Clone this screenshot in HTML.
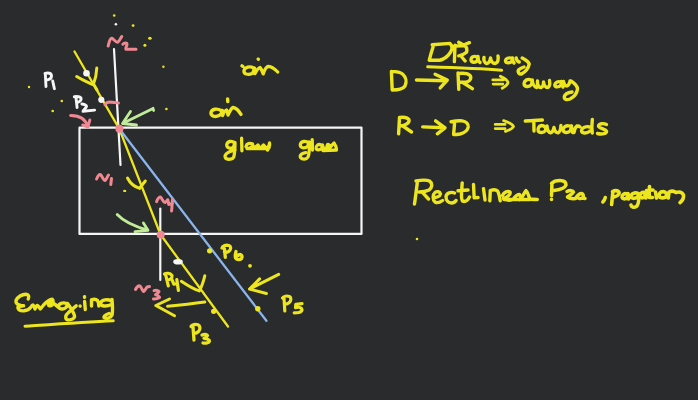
<!DOCTYPE html>
<html><head><meta charset="utf-8">
<style>
html,body{margin:0;padding:0;background:#2a2b2d;width:698px;height:400px;overflow:hidden}
svg{display:block}
</style></head><body>
<svg width="698" height="400" viewBox="0 0 698 400">
<rect width="698" height="400" fill="#2a2b2d"/>
<g fill="none" stroke-linecap="round" stroke-linejoin="round">
<!-- rectangle -->
<rect x="79.5" y="127.7" width="282" height="106.2" stroke="#f6f6f6" stroke-width="2.2"/>
<!-- normals -->
<path d="M114 49 L120.5 165" stroke="#f6f6f6" stroke-width="2.2"/>
<path d="M160.3 208.5 L160.3 280" stroke="#f6f6f6" stroke-width="2.2"/>
<!-- yellow ray -->
<path d="M74.5 51.5 L119.3 128.8 L160.5 234.5 L228 326.5" stroke="#ede61f" stroke-width="2.3"/>
<!-- blue ray -->
<path d="M119.3 128.8 L266.4 320.8" stroke="#8ab4ec" stroke-width="2.3"/>

<!-- white labels -->
<g stroke="#f6f6f6" stroke-width="2.9">
<path id="P1" d="M45.3 74 L46 86.6 M45 73.5 C48 72.5 51.5 73 51.5 76 C51.5 78.5 49 79.5 47.5 79.8 M52.7 81 L54.4 88.7"/>
<path id="P2" d="M76 97.5 L77.1 107.5 M74.3 96.7 C77 96.3 79.7 96.3 81 98 C81.5 100 80 101.8 77.8 102.3 M81.9 104 C84 104.3 86.5 105 86.5 106.5 C86 108 83.5 109.5 83 111.3 L94.6 110.1"/>
</g>

<!-- pink -->
<g stroke="#f08892" stroke-width="3">
<path id="N2" d="M108.2 46 C109 42 110.5 38.5 111.7 38.2 C113.5 39 115.5 42 117.6 42.3 C119.5 41.5 120.5 38 121.75 36.5 M122.8 44.2 C124.5 42.5 127 42.8 127 44.5 C126.8 46.5 125 48 125.8 49.2 L136 49.2"/>
<path id="arc" d="M105 104.9 C105.8 102.8 107 101.9 110 101.9 L118.4 103"/>
<path id="parrow" d="M70.6 115.6 C78 115.5 85 117.5 88 127 M89.8 120 L88 127 L82.8 125"/>
<path id="N1" d="M96.6 179 C98 175.5 99.5 174 100.5 174.5 C102 176 103 180 105 180.5 C106.5 180 107.5 176 108.5 175 M111.5 178.5 L110.8 184.5"/>
<path id="N4" d="M156.6 201.6 C158 198 159.5 197 160.5 197 C162 198.5 163.5 202.5 165 202.5 C166.5 202 167 200 167.8 199.7 M167.8 199.7 L168.75 204.4 L172.5 203.4 M172.5 199.7 L171.6 211"/>
<path id="N3" d="M135.5 289.5 C137 286.5 139 285.5 140 286 C141.5 287.5 142.5 291 143.5 291.5 C145 291 146 288 147 287 L149.5 286.5 M154 290.6 C156 290 158.5 290.5 159 291.5 C158.5 293 156.5 294 155.5 294.7 C157.5 295.5 159.5 296.5 159.6 297.5 C158 298.5 155.5 299 153.4 298.9"/>
</g>

<!-- green -->
<g stroke="#c0ec98" stroke-width="2.8">
<path id="garrow1" d="M153 108.3 L153.6 110.5 M153 108.5 L122.5 123.5 M130.5 111.5 L122.5 123.5 L136.5 125"/>
<path id="garrow2" d="M117.2 214.5 Q126 224 148 230.3 M143.4 223 L148 230.3 L135 231.6"/>
</g>

<!-- yellow marks -->
<g stroke="#ede61f" stroke-width="3">
<path id="yarrow1" d="M76.7 76.6 C82 80 88 82 92.5 84.5 M96.8 68 C96.5 74 95.5 79 93.5 84 L97 90"/>
<path id="yv1" d="M127.5 178 C130 183 135 187 139.7 188.4 M145.3 181 C143 184 141 186 139.7 188.4"/>
<path id="P4" stroke-width="3.2" d="M165.4 273.7 L168.3 285.9 M164.5 274 C166.5 273 170 273 172 275.5 C172.5 278 170 280 167.5 280.2 M172.2 280.2 L173.8 284.1 L177.2 283.4 M176.8 279.5 L178.4 290.5"/>
<path id="yv2" d="M181.4 281.3 C187 285 193 289 199.3 290.9 M204.8 275.8 C203.5 281 201.5 287 199.3 290.9"/>
<path id="yleft" d="M204.8 301.9 C193 303.5 180 305 167.6 306.3 M169.5 299 L155.8 305.5 L174.5 315.7"/>
<path id="P3" stroke-width="3.3" d="M193 327 L194 340 M191 326.5 C192 324.5 195.5 324 198 324.8 C200.5 326 200.5 329.5 198.5 331.5 C197 333 195.5 333.5 194 333.3 M202 335 C204 334 207 334 207.5 335.5 C207 337 205 338 204 338.3 C206.5 338.5 209 339.5 209.5 341 C209 343 205.5 343.5 203 343"/>
<path id="P6" stroke-width="3.3" d="M224.5 249 L225.3 257.3 M222 248 C222.5 245.5 226 244.8 229 245.5 C231.5 246.5 231 250 228.5 251.5 C227 252.3 225.5 252.3 224.5 252 M236 251.5 C235.3 254 235 256.5 235.5 258 C236.5 260 240 260 241.5 258.5 C242.5 257 242 255 240.5 254.5 C239 254.5 237.5 255.5 236.5 256.5"/>
<path id="yblue" d="M278.7 274.4 L249.5 289 M259.6 278.9 L249.5 289 L266.4 293.5"/>
<path id="P5" stroke-width="3.2" d="M284 298 L284.8 311 M282.5 298 C283.5 296 287 295.8 289.5 296.5 C291.5 297.5 291.3 301 289 302.8 C287.5 304 285.5 304.3 284.5 304 M302 303.7 L295.8 304.3 L295.5 307.6 C297.5 307.2 300.5 307.2 301.5 308.5 C302.5 310 301.5 312 299 312.5 C297.5 312.8 295.5 312.8 294.2 312.8"/>
</g>
</g>


<!-- handwriting text -->
<g fill="none" stroke="#ede61f" stroke-width="3.4" stroke-linecap="round" stroke-linejoin="round">
<path id="air1" stroke-width="3.3" d="M253.5 68 C250 66 245 67 244 70.5 C243.5 74 248 75.5 252 73.5 C253.5 72.5 254 70 254.5 68 L255 73.5 C256.5 70.5 258.5 68 260 67.5 C261.5 69 262.5 72 263.2 73.9 C264.5 70 266.5 67 268.3 66.3 C271 66.5 275 69 277.7 72 M242 65.8 L242.8 66.3 M258.2 59.1 L258.3 59.3"/>
<path id="air2" stroke-width="3.4" d="M221 110.5 C217 108 212 109 211 112.5 C210.5 116 215 117.5 219 115.5 C221 114.5 222 112 222.3 110.5 L222.5 115.5 C223.5 113 225 110.5 226.6 110 C227.5 111.5 227.8 113.5 228 115 C229.5 112 231 108.5 232.9 107.5 C236 108 239 111 241 114.4 M227.6 99 L227.8 101.6"/>
<path id="glass1" stroke-width="3.3" d="M234.5 143 C232 140.5 227.5 141 226.8 144.5 C226.5 148 230.5 149.5 233.5 147 L235 142.5 C235 148 234.5 154 233.8 156.9 C232.5 159.5 228.5 160 226 158.5 C224 156.5 225.5 153.5 229 152 C231 151 233 150.5 235 150 M241.6 138.2 L241.9 150.8 M246 146.5 C246.5 143.5 250 142.5 252.5 144 C253.5 146 251 148.5 247.5 148.5 C252 149 256 147 258 145 C259 147 259.5 148 260.5 148 C262 147.5 262.5 145.5 263.5 145 C265 146.5 265.5 148 267 148 C268.5 147 269.5 144.5 269.5 143 C270 146 269 148.5 267.5 150 M247 148.5 L267 148.5"/>
<path id="glass2" stroke-width="3.3" d="M308.5 143 C306 140.5 301 141 300.3 144.5 C300 148 304.5 149 307.5 146.5 L309.3 142 C309.5 148 309.5 154 308 157 C306.5 159.5 302.5 160 300.5 157.5 C299.5 155 302 153 305.7 152.6 M312.2 139.7 L312.5 150 M321 145 C318.5 143.5 316 145.5 316.2 148 C316.5 150.5 320 150.5 322 148 L322.5 145 C323 147 323.5 149.5 325.5 149.5 C327 148.5 327 146 327.5 144.5 C329 144 330 146 329.5 148 C331 146.5 332.5 144 334 143 C335.5 145 336.5 148 336.5 150 L323 150.5"/>
<path id="draway" d="M432.2 44.8 L450 43.4 M433.6 45.2 C432 50 430.5 55 429.3 60.2 M450 43.6 C453.5 46.5 452 51.5 448 55.5 C445.5 58 443 59.8 439.5 60.2 L429.3 60.2 M455 45.2 L454.4 61.6 M455.2 46 C458 45.8 462.5 45.5 465.1 45.9 C467 47.5 467 50.5 466.5 52.3 C464 54.5 461 55.5 458.7 55.9 M461 56 L465.1 61 M458.7 42.3 L463.5 45 L469.4 42.7 M477 57 C474 55.5 471 57 471 60 C471.5 63 476 63 477.5 60 L478 56.5 C478 59 478.5 61.5 480 62.5 M484 57.5 C483.5 60 484.5 63 486.5 63.5 C488.5 63.5 490 61 490.5 58 C491 61 492.5 63.5 495 63.5 C497.5 63 498.5 60 498 56 M512 58.5 C509 57 505.5 58.5 505.5 61 C506 63.5 510 63.5 512 61 L512.5 58 C512.5 60.5 513 62 514 63 M516.2 58 C516.5 60 517.5 61.5 519.2 62 M522.2 58 C525 59.5 528.5 61.5 529.2 64 C528.5 68 525 72 521.5 74 C519 74.5 517.5 72 518.5 70 C520 68.5 522.5 67.5 524 67"/>
<path id="uline" d="M427.7 66.8 C450 67.5 480 68.5 501.7 70.2" stroke-width="3"/>
<path id="DR" d="M391.4 71.4 L392.2 90 M391.4 71.4 C396 71.5 400 72 402.5 74 C406 77 407 82 405 86 C403 89 398 90 392.5 90 M416.5 80 L446.6 80.8 M435.1 74.3 L447.3 80 L440.2 87.9 M458 72.9 L458.8 89.4 M458 73.5 C462 73 467 73 469.5 75 C472 77.5 470.5 81 466.7 82 C463 82.5 460 82.2 458.8 82.2 M462.4 82.2 L472.4 88.6"/>
<path id="imp1" stroke-width="2.9" d="M492.8 79.9 L503.5 79.9 M493.2 84.1 L502.8 84.1 M500.4 76.3 C504 78 507.5 80 508 82.5 C507.5 85 504.5 87 502.2 88.3"/>
<path id="away" d="M531 80 C528 78.5 524.5 80 524 83.5 C524 87 529 87.5 531.5 84.5 L532.3 80 C532.3 83 534 86.5 536.5 87.5 M537.5 81 C537 84 538.5 87.5 541 87.5 C543 87 543.5 84 543.5 82 C544 85 545.5 87.5 547.5 87.5 C549.5 87 550 83.5 549.5 80.5 M560.5 82 C558 81 555 82.5 554.8 85 C555 87.5 559 87.5 561 85 L561.5 81.5 C561.5 84 562 86 563 87 M563.5 81.5 C564 84 565.5 86 567 86 C568.5 85.5 569.5 83.5 570 81 M571 81 C574 83 577.5 86 577.5 89 C577 93 574 97 570 99 C566 100.5 564 99 564.3 96.5 C565 94 569 92.5 572 92"/>
<path id="RD" d="M399.5 117.5 L398.6 133.8 M399.5 117.5 C403 117 407 117 408.9 119.5 C410 123 405 125.5 400.3 126 M402.9 126 L411.5 132 M422.7 126.9 L445 127.8 M435.6 120.9 L445 127.8 L437.3 133.8 M454.5 122.6 C454.5 126 454 130 453.6 133.8 M451 121.75 C455 121 459 120.5 462.2 120.9 C466 121.5 468.5 124 468.2 127 C467.5 131 464 133 460 134 C457 134.5 455 134.6 453.6 134.6"/>
<path id="imp2" stroke-width="2.8" d="M495.2 124.4 L505 124.4 M495.2 128.6 L505 128.6 M503.6 120.6 C508 122 512.5 124 513.5 126.5 C512.5 129 508 130.5 505.4 131.4"/>
<path id="towards" d="M525.3 121 C531 120.5 537 120.3 542.4 120 M533.8 121 L534 131 M541.5 125.5 C538.5 126 537.5 129 538.3 131.3 C539.5 133 544 133 545.5 130.5 C546.3 128 544.5 125.5 541.5 125.5 M547 126 C547.3 129.5 548.5 132.5 550.5 132.8 C552.5 132.5 553.5 129.5 554 127.5 C554.5 130 556 132.8 558 132.8 C560 132 560.8 128.5 560.9 125.5 M569.5 126 C566.5 125 563 127 563 130 C563.5 133 568 133.5 570.5 130.5 L571.5 125.8 C571.5 128.5 572 131 572.7 132.5 M574 132.5 C574.5 129.5 575.5 127 577 126 C578 125.8 579 126 580 126.8 M589.5 127 C586 126 582 127.5 581.5 130.5 C581.5 133.5 586.5 134 590 131 M592.3 119.5 C591.8 124 591.6 128.5 592.3 133 M606.5 124.5 C603.5 123 599 123.5 598.5 126 C598.5 128.5 605 128.5 606.5 131 C607.5 133.5 602 134.8 597.5 133.5"/>
<path id="rect" d="M417.5 181 C416.5 189 415.5 197 414.5 204 M416 181 C421 180 426 179.5 429.5 181 C433 183.5 432 188 429 190 C425 192 421 192 419 192 M422 192 C424.5 194.5 426.5 197 428.5 199 M433.5 197.5 C436 197.5 440 196.5 440.5 194 C440 191.5 437 191 435 192.5 C432.5 194.5 432.5 200 435 202 C437.5 203.5 440.5 202 442.5 200.5 M454.5 193 C451 191.5 446.5 193 446 196.5 C446 201 448.5 203 451.5 203 C453 203 455 202 456 200.5 M462.2 182.9 C461.8 188 461.5 193 461.5 196.5 C461.5 200 462.5 201.5 464 201.5 C466 201.5 468 200 469.5 197 M458 190.8 L468 190 M473.5 184.5 L474.2 197.9 L478 197.5 M483.5 188.6 L485 200 M489.8 200.8 L490.3 190.5 C493 189.5 496 189.5 497.5 191 C499 193 499.5 197 500.2 200.8 M502.5 195.5 C504 192 508 190.5 510 192 C511 194.5 507 197.5 503.5 198.5 C506 200.5 510 200.5 513 199.5 C515 196.5 517 194.5 519.5 194.5 C521 196.5 521 199 519.5 199.8 C522 198.5 524 193 526 190.5 C528 192 528.5 197 530 199 C532 199.5 535 199.5 537.3 199.5 M504 199.5 L530 199.5"/>
<path id="pro" stroke-width="3.5" d="M552 183.5 C551.8 188 551.6 192 551.5 195.6 M551.5 183.5 C553.5 181.5 556 180.6 560 180.6 C564 180.6 566 182 566 185 C565 188 561 189.5 554 190.5 M567 191.5 C570 190 573 190.5 573.5 192 C572.5 194 569.5 195.5 567.5 197 C569.5 198.5 573 198.8 575.5 198.5 C577 196 579 193.5 581.5 193.5 C583.5 194 584 196.5 582.5 198 C580.5 199 578 198.5 577.5 197 M582.5 198 L585 198.5 M605.3 197.5 C604.8 199.5 603.8 201 602.8 202 M551.5 199.2 L551.5 199.4"/>
<path id="pagation" stroke-width="3.6" d="M612.9 191.6 L611.6 204.5 M612.5 191.5 C614.5 190.5 617 190.5 618.5 191.5 C620 193 618.5 196 614.8 196.8 M627 194 C624.5 193 622 194.5 622 197 C622.5 199.5 626 199.5 627.5 197 L628 193.5 L628.5 199 M638 193.5 C635 192 631 193.5 631 196.5 C631.5 199 635.5 199 638 196.5 L638.5 193.5 C639 198 639 203 637 206 C635 208 631.5 207.5 631 205 M644.5 192.5 C642 192 640 193.5 640 196 C640.5 198.5 643.5 198.5 645 196 L645.5 192 L646 198 M649.5 186.5 C649.2 190 649 194 649.5 197.5 L652.5 197.5 M646.5 190.5 L653 190 M655.5 192 L656.5 198 M663 191.6 C660 191.6 659 194 659.3 196 C660 198.5 665 198.5 666.5 196 C667 193.5 665.5 191.6 663 191.6 M668.3 198 L669 192 C671 191 674 191 676 192.5 C679 191.5 682 192 683.5 195 C684 198 682.5 200.5 680 202.6"/>
<path id="emerging" d="M28.2 299 C29.5 296.5 28.5 294.3 26 294.2 C22 294.2 17.5 297 16 300.5 C15.5 303 17.5 305 21 305.5 L23.6 305.8 C20 305.8 17.5 306.5 18 308 C18.5 310 21 311 24 310.8 C27 310.5 29.5 309 30.6 307.5 C31.5 306 32.5 305 33 305 C34 305.5 34.5 308 35 309 C35.5 307.5 36.5 305.5 37.5 305.5 C38.5 306 39.5 308 40.3 309 C42 307 43.5 305 45 303.5 C47 301.5 50 299.5 52.2 299.2 C53.5 300 53.5 303 52 305 C50.5 306.5 48.5 306 48.5 304.5 C49.5 303 52.5 303 54.5 304 C56 305 57 306 58 307 M66.5 303.5 C63 302 58.5 303.5 58.5 306.5 C59 309.5 64 310 66.5 307 L67.5 303.5 C70 307 74 312 74.6 316.5 C74 319.5 69 320.5 66.7 319.5 C65 318 65.5 315 68 313 C71 310 74 307.5 76.2 305.8 M80.1 306 L80.2 306.1 M84.5 296.8 L84.6 297.4 M84.6 301.5 L85.3 309.5 M91.5 306 L91.5 299.8 C93.5 299 96 299 97.5 300.5 C98.5 302 98.8 304 98.8 306 M111.5 301 C108 299 101.5 299.5 100.5 303 C100.5 306.5 106 307 111.5 304.5 M112 299.5 C112.5 305 113 311 112 315 C110.5 318.5 106 319 104 317.5 C103.5 315.5 106 314.5 109 313.5"/>
<path id="eline" d="M25 326.2 C50 324.5 85 322 113.2 320.7" stroke-width="3"/>
</g>
<!-- dots -->
<g fill="#f08892">
<circle cx="119.4" cy="128.8" r="4"/>
<circle cx="160.7" cy="234.8" r="4"/>
</g>
<g fill="#f6f6f6">
<circle cx="86.5" cy="73.2" r="3.3"/>
<circle cx="101.3" cy="99.8" r="3.1"/>
<ellipse cx="178" cy="261.7" rx="4.8" ry="2.8"/>
<circle cx="115.9" cy="24.3" r="1.3"/>
</g>
<g fill="#ede61f">
<circle cx="114.2" cy="15.5" r="1.3"/>
<circle cx="133.1" cy="25.6" r="1.4"/>
<ellipse cx="149.9" cy="38.2" rx="1.8" ry="1.5"/>
<circle cx="144.9" cy="45.2" r="1.5"/>
<circle cx="163.4" cy="66.7" r="1.2"/>
<circle cx="61.8" cy="101" r="1.3"/>
<circle cx="52.7" cy="111" r="1.3"/>
<circle cx="166.4" cy="109" r="1.3"/>
<circle cx="29" cy="87" r="1.2"/>
<ellipse cx="124.7" cy="190.9" rx="1.6" ry="1.2"/>
<circle cx="209.6" cy="250.8" r="2.6"/>
<circle cx="250" cy="265.8" r="1.9"/>
<circle cx="213.6" cy="311.3" r="2.6"/>
<circle cx="257.8" cy="308.8" r="2.7"/>
<circle cx="417" cy="239" r="1.3"/>
</g>
</svg>
</body></html>
